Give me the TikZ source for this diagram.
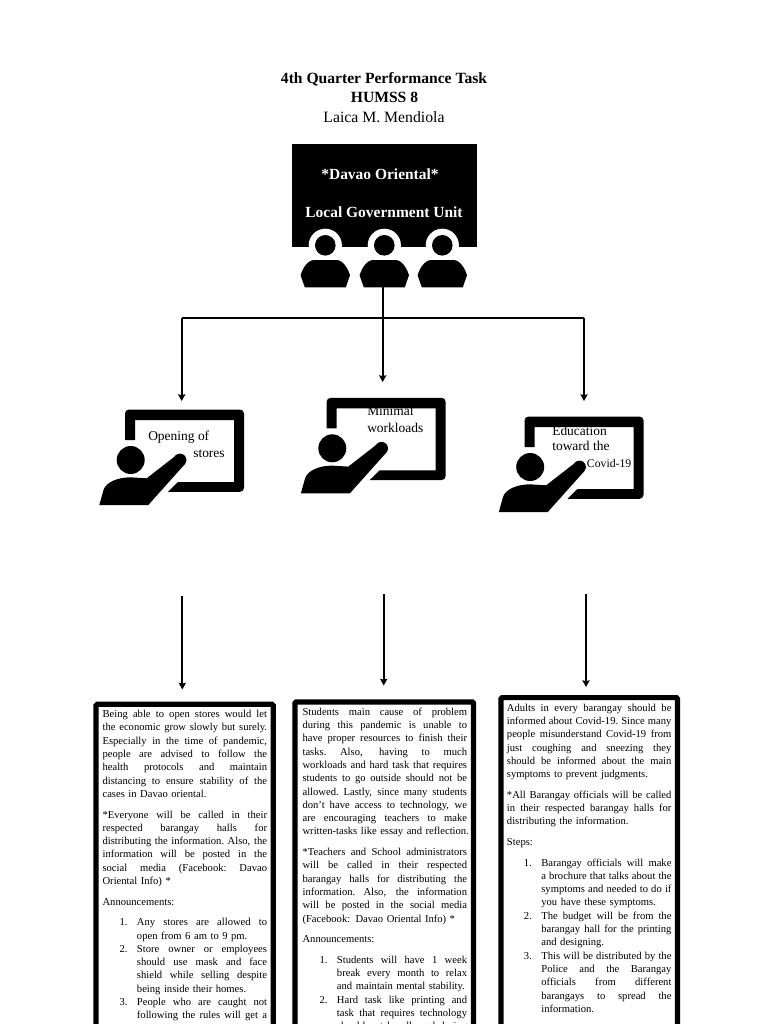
\documentclass[tikz,border=0pt]{standalone}
\usepackage{fontspec}
\setmainfont{Liberation Serif}
\usetikzlibrary{arrows.meta}
\newlength\uu \uu=.75pt
\newcommand\wsp{\spaceskip=.25em plus 3em minus .08em\xspaceskip=\spaceskip}
\newcommand\jl[1]{\hbox to 123.375pt{\wsp #1}}
\newcommand\pl[1]{\hbox{#1}}
\newcommand\gap{\vskip 7.3\uu}
\newcommand\li[2]{\hbox to 123.375pt{\hbox to 25.8pt{\hskip 12.75pt #1\hss}\hbox to 97.575pt{\wsp #2}}}
\newcommand\lj[1]{\li{}{#1}}
\newcommand\lp[1]{\hbox{\hskip 25.8pt #1}}
\newcommand\bodyset{\fontsize{7.95pt}{9.975pt}\selectfont\baselineskip=13.3\uu\lineskiplimit=-10pt\parskip=0pt}
\tikzset{
  flow/.style={line width=1.3pt,-{Stealth[length=5pt,width=5.4pt,inset=0.6pt]}},
  trunk/.style={line width=1.3pt},
  textbox/.style={draw=black,line width=3.9pt,fill=white,rounded corners=1pt,anchor=north west,inner sep=0pt},
  bodytext/.style={anchor=north west,inner sep=0pt,text width=164.5\uu,font=\bodyset},
  head/.style={anchor=base,inner sep=0pt},
  lab/.style={anchor=base west,inner sep=0pt,font=\fontsize{10.1pt}{12pt}\selectfont},
  labsmall/.style={anchor=base west,inner sep=0pt,font=\fontsize{8.8pt}{11pt}\selectfont},
  lgutext/.style={anchor=base,inner sep=0pt,text=white,font=\fontsize{11.6pt}{13pt}\selectfont\bfseries},
  pics/presenter/.style={code={
    \fill[rounded corners=3pt] (0,30.5) -- (0,0) -- (119,0) -- (119,82.3) [sharp corners] -- (43,82.3) -- (53,72.5) -- (109,72.5) -- (109,10.5) -- (10,10.5) -- (10,30.5) -- cycle;
    \fill (5.7,50.5) circle[radius=14];
    \fill (-25.7,95.5) -- (-21.5,80.5) .. controls (-19,72.5) and (-7,68) .. (5,67.8) -- (21.7,68.8) -- (51,46) -- (59.5,55) -- (23.3,95.5) -- cycle;
    \fill (55,50.5) circle[radius=6.4];
  }},
  pics/person/.style={code={
    \fill[white] (0,0) circle[radius=16.6];
    \fill (0,0) circle[radius=10.3];
    \fill (-20.5,42) -- (-24.7,30) .. controls (-23,24) and (-18,14.7) .. (-11,14.7) -- (11,14.7) .. controls (18,14.7) and (23,24) .. (24.7,30) -- (20.5,42) -- cycle;
  }}
}
\begin{document}
\begin{tikzpicture}[x=.75pt,y=-.75pt]
\useasboundingbox (0,0) rectangle (768,1024);
\clip (0,0) rectangle (768,1024);
\fill[white] (0,0) rectangle (768,1024);
% title
\node[head,font=\fontsize{11.7pt}{13pt}\selectfont\bfseries] (title1) at (384,84) {4th Quarter Performance Task};
\node[head,font=\fontsize{11.7pt}{13pt}\selectfont\bfseries] (title2) at (384.5,102.7) {HUMSS 8};
\node[head,font=\fontsize{11.8pt}{13pt}\selectfont] (title3) at (384,122.3) {Laica M. Mendiola};
% LGU
\node[fill=black,minimum width=138.75pt,minimum height=77pt,inner sep=0pt,outer sep=0pt,anchor=north west] (lgu) at (291.7,144) {};
\node[lgutext] (lgu1) at (380,179) {*Davao Oriental*};
\node[lgutext] (lgu2) at (384,217.7) {Local Government Unit};
\pic at (325.3,245.3) {person};
\pic at (384.3,245.3) {person};
\pic at (442.3,245.3) {person};
% connectors
\coordinate (top) at (382.7,287);
\coordinate (jl) at (181.7,317.7);
\coordinate (jm) at (382.7,317.7);
\coordinate (jr) at (584,317.7);
\coordinate (a1) at (181.7,401);
\coordinate (a2) at (382.7,382);
\coordinate (a3) at (584,401);
\draw[trunk] (top) -- (jm);
\draw[trunk,line cap=square] (jl) -- (jr);
\draw[flow] (jl) -- (a1);
\draw[flow] (jm) -- (a2);
\draw[flow] (jr) -- (a3);
\coordinate (s1) at (182.3,596);
\coordinate (s2) at (383.7,594);
\coordinate (s3) at (586,594);
\coordinate (e1) at (182.3,689.5);
\coordinate (e2) at (383.7,685.5);
\coordinate (e3) at (586,687);
\draw[flow] (s1) -- (e1);
\draw[flow] (s2) -- (e2);
\draw[flow] (s3) -- (e3);
% labels
\node[lab] (l1a) at (148,440.7) {Opening of};
\node[lab] (l1b) at (193,457.3) {stores};
\node[lab] (l2a) at (367,415) {Minimal};
\node[lab] (l2b) at (367,432) {workloads};
\node[lab] (l3a) at (552,435) {Education};
\node[lab] (l3b) at (552,450.7) {toward the};
\node[labsmall] (l3c) at (586.7,467.7) {Covid-19};
% icons
\pic at (125,409.5) {presenter};
\pic at (326.6,397.8) {presenter};
\pic at (524.5,416.5) {presenter};
% boxes
\node[textbox,minimum width=133pt,minimum height=300pt] (b1) at (93.3,701.7) {};
\node[textbox,minimum width=134pt,minimum height=300pt] (b2) at (292.3,699.3) {};
\node[textbox,minimum width=132.5pt,minimum height=300pt] (b3) at (498.3,695) {};
\node[bodytext] (t1) at (102.3,710) {%
\jl{Being able to open stores would let}
\jl{the economic grow slowly but surely.}
\jl{Especially in the time of pandemic,}
\jl{people are advised to follow the}
\jl{health protocols and maintain}
\jl{distancing to ensure stability of the}
\pl{cases in Davao oriental.}
\gap
\jl{*Everyone will be called in their}
\jl{respected barangay halls for}
\jl{distributing the information. Also, the}
\jl{information will be posted in the}
\jl{social media (Facebook: Davao}
\pl{Oriental Info) *}
\gap
\pl{Announcements:}
\gap
\li{1.}{Any stores are allowed to}
\lp{open from 6 am to 9 pm.}
\li{2.}{Store owner or employees}
\lj{should use mask and face}
\lj{shield while selling despite}
\lp{being inside their homes.}
\li{3.}{People who are caught not}
\lj{following the rules will get a}
};
\node[bodytext] (t2) at (302.3,707.5) {%
\jl{Students main cause of problem}
\jl{during this pandemic is unable to}
\jl{have proper resources to finish their}
\jl{tasks. Also, having to much}
\jl{workloads and hard task that requires}
\jl{students to go outside should not be}
\jl{allowed. Lastly, since many students}
\jl{don’t have access to technology, we}
\jl{are encouraging teachers to make}
\pl{written-tasks like essay and reflection.}
\gap
\jl{*Teachers and School administrators}
\jl{will be called in their respected}
\jl{barangay halls for distributing the}
\jl{information. Also, the information}
\jl{will be posted in the social media}
\pl{(Facebook: Davao Oriental Info) *}
\gap
\pl{Announcements:}
\gap
\li{1.}{Students will have 1 week}
\lj{break every month to relax}
\lp{and maintain mental stability.}
\li{2.}{Hard task like printing and}
\lj{task that requires technology}
\lj{should not be allowed during}
};
\node[bodytext] (t3) at (506.7,703.5) {%
\jl{Adults in every barangay should be}
\jl{informed about Covid-19. Since many}
\jl{people misunderstand Covid-19 from}
\jl{just coughing and sneezing they}
\jl{should be informed about the main}
\pl{symptoms to prevent judgments.}
\gap
\jl{*All Barangay officials will be called}
\jl{in their respected barangay halls for}
\pl{distributing the information.}
\gap
\pl{Steps:}
\gap
\li{1.}{Barangay officials will make}
\lj{a brochure that talks about the}
\lj{symptoms and needed to do if}
\lp{you have these symptoms.}
\li{2.}{The budget will be from the}
\lj{barangay hall for the printing}
\lp{and designing.}
\li{3.}{This will be distributed by the}
\lj{Police and the Barangay}
\lj{officials from different}
\lj{barangays to spread the}
\lp{information.}
};
\end{tikzpicture}
\end{document}
